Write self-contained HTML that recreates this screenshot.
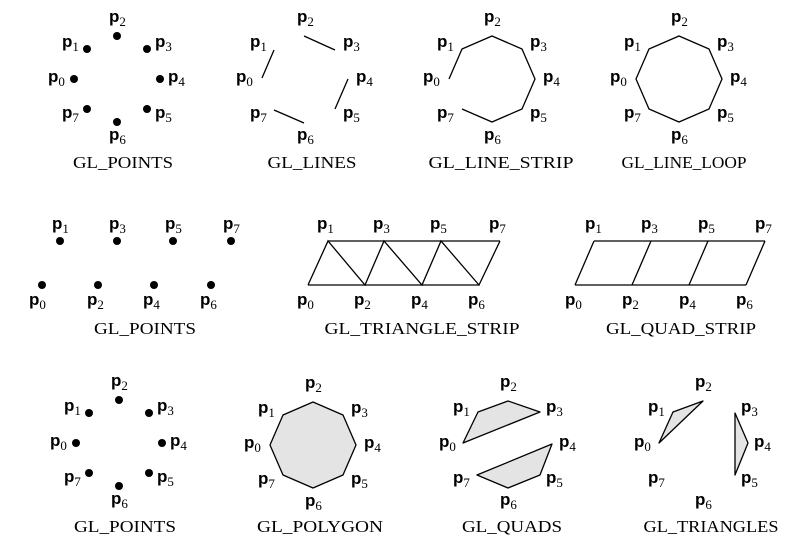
<!DOCTYPE html>
<html><head><meta charset="utf-8"><style>
html,body{margin:0;padding:0;background:#fff;}
svg{display:block;}
.l{font-family:"Liberation Sans",sans-serif;font-weight:bold;font-size:17px;fill:#000;}
.s{font-family:"Liberation Serif",serif;font-weight:normal;font-size:13px;}
.c{font-family:"Liberation Serif",serif;font-size:17px;fill:#000;text-anchor:middle;}
.ln{fill:none;stroke:#000;stroke-width:1.3;}
.f{fill:#e4e4e4;stroke:#000;stroke-width:1.3;stroke-linejoin:round;}
</style></head><body>
<svg width="797" height="551" viewBox="0 0 797 551" xmlns="http://www.w3.org/2000/svg">
<!-- Row 1: GL_POINTS -->
<g fill="#000">
<circle cx="74" cy="79" r="4"/><circle cx="87" cy="49" r="4"/><circle cx="117" cy="36" r="4"/><circle cx="147" cy="49" r="4"/>
<circle cx="160" cy="79" r="4"/><circle cx="147" cy="109" r="4"/><circle cx="117" cy="122" r="4"/><circle cx="87" cy="109" r="4"/>
</g>
<text class="l" x="109" y="22">p<tspan class="s" dy="4">2</tspan></text>
<text class="l" x="62" y="47">p<tspan class="s" dy="4">1</tspan></text>
<text class="l" x="155" y="47">p<tspan class="s" dy="4">3</tspan></text>
<text class="l" x="48" y="82">p<tspan class="s" dy="4">0</tspan></text>
<text class="l" x="168" y="82">p<tspan class="s" dy="4">4</tspan></text>
<text class="l" x="62" y="118">p<tspan class="s" dy="4">7</tspan></text>
<text class="l" x="155" y="118">p<tspan class="s" dy="4">5</tspan></text>
<text class="l" x="109" y="140">p<tspan class="s" dy="4">6</tspan></text>
<text class="c" x="123" y="168" textLength="100" lengthAdjust="spacingAndGlyphs">GL_POINTS</text>

<!-- GL_LINES -->
<line class="ln" x1="262" y1="78" x2="274" y2="50"/>
<line class="ln" x1="304" y1="36" x2="335" y2="50"/>
<line class="ln" x1="348" y1="79" x2="335" y2="109"/>
<line class="ln" x1="274" y1="110" x2="304" y2="123"/>
<text class="l" x="297" y="22">p<tspan class="s" dy="4">2</tspan></text>
<text class="l" x="250" y="47">p<tspan class="s" dy="4">1</tspan></text>
<text class="l" x="343" y="47">p<tspan class="s" dy="4">3</tspan></text>
<text class="l" x="236" y="82">p<tspan class="s" dy="4">0</tspan></text>
<text class="l" x="356" y="82">p<tspan class="s" dy="4">4</tspan></text>
<text class="l" x="250" y="118">p<tspan class="s" dy="4">7</tspan></text>
<text class="l" x="343" y="118">p<tspan class="s" dy="4">5</tspan></text>
<text class="l" x="297" y="140">p<tspan class="s" dy="4">6</tspan></text>
<text class="c" x="312" y="168" textLength="89" lengthAdjust="spacingAndGlyphs">GL_LINES</text>

<!-- GL_LINE_STRIP -->
<polyline class="ln" points="449,79 462,49 492,36 522,49 535,79 522,109 492,122 462,109"/>
<text class="l" x="484" y="22">p<tspan class="s" dy="4">2</tspan></text>
<text class="l" x="437" y="47">p<tspan class="s" dy="4">1</tspan></text>
<text class="l" x="530" y="47">p<tspan class="s" dy="4">3</tspan></text>
<text class="l" x="423" y="82">p<tspan class="s" dy="4">0</tspan></text>
<text class="l" x="543" y="82">p<tspan class="s" dy="4">4</tspan></text>
<text class="l" x="437" y="118">p<tspan class="s" dy="4">7</tspan></text>
<text class="l" x="530" y="118">p<tspan class="s" dy="4">5</tspan></text>
<text class="l" x="484" y="140">p<tspan class="s" dy="4">6</tspan></text>
<text class="c" x="501" y="168" textLength="145" lengthAdjust="spacingAndGlyphs">GL_LINE_STRIP</text>

<!-- GL_LINE_LOOP -->
<polygon class="ln" points="636,79 649,49 679,36 709,49 722,79 709,109 679,122 649,109"/>
<text class="l" x="671" y="22">p<tspan class="s" dy="4">2</tspan></text>
<text class="l" x="624" y="47">p<tspan class="s" dy="4">1</tspan></text>
<text class="l" x="717" y="47">p<tspan class="s" dy="4">3</tspan></text>
<text class="l" x="610" y="82">p<tspan class="s" dy="4">0</tspan></text>
<text class="l" x="730" y="82">p<tspan class="s" dy="4">4</tspan></text>
<text class="l" x="624" y="118">p<tspan class="s" dy="4">7</tspan></text>
<text class="l" x="717" y="118">p<tspan class="s" dy="4">5</tspan></text>
<text class="l" x="671" y="140">p<tspan class="s" dy="4">6</tspan></text>
<text class="c" x="684" y="168" textLength="125" lengthAdjust="spacingAndGlyphs">GL_LINE_LOOP</text>

<!-- Row 2: GL_POINTS -->
<g fill="#000">
<circle cx="60" cy="241" r="4"/><circle cx="117" cy="241" r="4"/><circle cx="173" cy="241" r="4"/><circle cx="231" cy="241" r="4"/>
<circle cx="42" cy="285" r="4"/><circle cx="98" cy="285" r="4"/><circle cx="154" cy="285" r="4"/><circle cx="211" cy="285" r="4"/>
</g>
<text class="l" x="52" y="229">p<tspan class="s" dy="4">1</tspan></text>
<text class="l" x="109" y="229">p<tspan class="s" dy="4">3</tspan></text>
<text class="l" x="165" y="229">p<tspan class="s" dy="4">5</tspan></text>
<text class="l" x="223" y="229">p<tspan class="s" dy="4">7</tspan></text>
<text class="l" x="29" y="305">p<tspan class="s" dy="4">0</tspan></text>
<text class="l" x="87" y="305">p<tspan class="s" dy="4">2</tspan></text>
<text class="l" x="143" y="305">p<tspan class="s" dy="4">4</tspan></text>
<text class="l" x="200" y="305">p<tspan class="s" dy="4">6</tspan></text>
<text class="c" x="145" y="334" textLength="102" lengthAdjust="spacingAndGlyphs">GL_POINTS</text>

<!-- GL_TRIANGLE_STRIP -->
<line class="ln" x1="328" y1="241" x2="500" y2="241"/>
<line class="ln" x1="308" y1="285" x2="479" y2="285"/>
<polyline class="ln" points="308,285 328,241 365,285 384,241 422,285 441,241 479,285 500,241"/>
<text class="l" x="317" y="229">p<tspan class="s" dy="4">1</tspan></text>
<text class="l" x="373" y="229">p<tspan class="s" dy="4">3</tspan></text>
<text class="l" x="430" y="229">p<tspan class="s" dy="4">5</tspan></text>
<text class="l" x="489" y="229">p<tspan class="s" dy="4">7</tspan></text>
<text class="l" x="297" y="305">p<tspan class="s" dy="4">0</tspan></text>
<text class="l" x="354" y="305">p<tspan class="s" dy="4">2</tspan></text>
<text class="l" x="411" y="305">p<tspan class="s" dy="4">4</tspan></text>
<text class="l" x="468" y="305">p<tspan class="s" dy="4">6</tspan></text>
<text class="c" x="422" y="334" textLength="195" lengthAdjust="spacingAndGlyphs">GL_TRIANGLE_STRIP</text>

<!-- GL_QUAD_STRIP -->
<line class="ln" x1="594" y1="241" x2="765" y2="241"/>
<line class="ln" x1="575" y1="285" x2="746" y2="285"/>
<line class="ln" x1="575" y1="285" x2="594" y2="241"/>
<line class="ln" x1="632" y1="285" x2="651" y2="241"/>
<line class="ln" x1="689" y1="285" x2="708" y2="241"/>
<line class="ln" x1="746" y1="285" x2="765" y2="241"/>
<text class="l" x="585" y="229">p<tspan class="s" dy="4">1</tspan></text>
<text class="l" x="641" y="229">p<tspan class="s" dy="4">3</tspan></text>
<text class="l" x="698" y="229">p<tspan class="s" dy="4">5</tspan></text>
<text class="l" x="755" y="229">p<tspan class="s" dy="4">7</tspan></text>
<text class="l" x="565" y="305">p<tspan class="s" dy="4">0</tspan></text>
<text class="l" x="622" y="305">p<tspan class="s" dy="4">2</tspan></text>
<text class="l" x="679" y="305">p<tspan class="s" dy="4">4</tspan></text>
<text class="l" x="736" y="305">p<tspan class="s" dy="4">6</tspan></text>
<text class="c" x="681" y="334" textLength="150" lengthAdjust="spacingAndGlyphs">GL_QUAD_STRIP</text>

<!-- Row 3: GL_POINTS -->
<g fill="#000">
<circle cx="76" cy="443" r="4"/><circle cx="89" cy="413" r="4"/><circle cx="119" cy="400" r="4"/><circle cx="149" cy="413" r="4"/>
<circle cx="162" cy="443" r="4"/><circle cx="149" cy="473" r="4"/><circle cx="119" cy="486" r="4"/><circle cx="89" cy="473" r="4"/>
</g>
<text class="l" x="111" y="386">p<tspan class="s" dy="4">2</tspan></text>
<text class="l" x="64" y="411">p<tspan class="s" dy="4">1</tspan></text>
<text class="l" x="157" y="411">p<tspan class="s" dy="4">3</tspan></text>
<text class="l" x="50" y="446">p<tspan class="s" dy="4">0</tspan></text>
<text class="l" x="170" y="446">p<tspan class="s" dy="4">4</tspan></text>
<text class="l" x="64" y="482">p<tspan class="s" dy="4">7</tspan></text>
<text class="l" x="157" y="482">p<tspan class="s" dy="4">5</tspan></text>
<text class="l" x="111" y="504">p<tspan class="s" dy="4">6</tspan></text>
<text class="c" x="125" y="532" textLength="102" lengthAdjust="spacingAndGlyphs">GL_POINTS</text>

<!-- GL_POLYGON -->
<polygon class="f" points="270,445 283,415 313,402 343,415 356,445 343,475 313,488 283,475"/>
<text class="l" x="305" y="388">p<tspan class="s" dy="4">2</tspan></text>
<text class="l" x="258" y="413">p<tspan class="s" dy="4">1</tspan></text>
<text class="l" x="351" y="413">p<tspan class="s" dy="4">3</tspan></text>
<text class="l" x="244" y="448">p<tspan class="s" dy="4">0</tspan></text>
<text class="l" x="364" y="448">p<tspan class="s" dy="4">4</tspan></text>
<text class="l" x="258" y="484">p<tspan class="s" dy="4">7</tspan></text>
<text class="l" x="351" y="484">p<tspan class="s" dy="4">5</tspan></text>
<text class="l" x="305" y="506">p<tspan class="s" dy="4">6</tspan></text>
<text class="c" x="320" y="532" textLength="126" lengthAdjust="spacingAndGlyphs">GL_POLYGON</text>

<!-- GL_QUADS -->
<polygon class="f" points="463,443 478,412 508,401 540,412"/>
<polygon class="f" points="552,444 540,475 508,488 477,475"/>
<text class="l" x="500" y="387">p<tspan class="s" dy="4">2</tspan></text>
<text class="l" x="453" y="412">p<tspan class="s" dy="4">1</tspan></text>
<text class="l" x="546" y="412">p<tspan class="s" dy="4">3</tspan></text>
<text class="l" x="439" y="447">p<tspan class="s" dy="4">0</tspan></text>
<text class="l" x="559" y="447">p<tspan class="s" dy="4">4</tspan></text>
<text class="l" x="453" y="483">p<tspan class="s" dy="4">7</tspan></text>
<text class="l" x="546" y="483">p<tspan class="s" dy="4">5</tspan></text>
<text class="l" x="500" y="505">p<tspan class="s" dy="4">6</tspan></text>
<text class="c" x="512" y="532" textLength="100" lengthAdjust="spacingAndGlyphs">GL_QUADS</text>

<!-- GL_TRIANGLES -->
<polygon class="f" points="659,443 673,412 703,401"/>
<polygon class="f" points="735,413 748,443 735,475"/>
<text class="l" x="695" y="387">p<tspan class="s" dy="4">2</tspan></text>
<text class="l" x="648" y="412">p<tspan class="s" dy="4">1</tspan></text>
<text class="l" x="741" y="412">p<tspan class="s" dy="4">3</tspan></text>
<text class="l" x="634" y="447">p<tspan class="s" dy="4">0</tspan></text>
<text class="l" x="754" y="447">p<tspan class="s" dy="4">4</tspan></text>
<text class="l" x="648" y="483">p<tspan class="s" dy="4">7</tspan></text>
<text class="l" x="741" y="483">p<tspan class="s" dy="4">5</tspan></text>
<text class="l" x="695" y="505">p<tspan class="s" dy="4">6</tspan></text>
<text class="c" x="711" y="532" textLength="135" lengthAdjust="spacingAndGlyphs">GL_TRIANGLES</text>
</svg>
</body></html>
